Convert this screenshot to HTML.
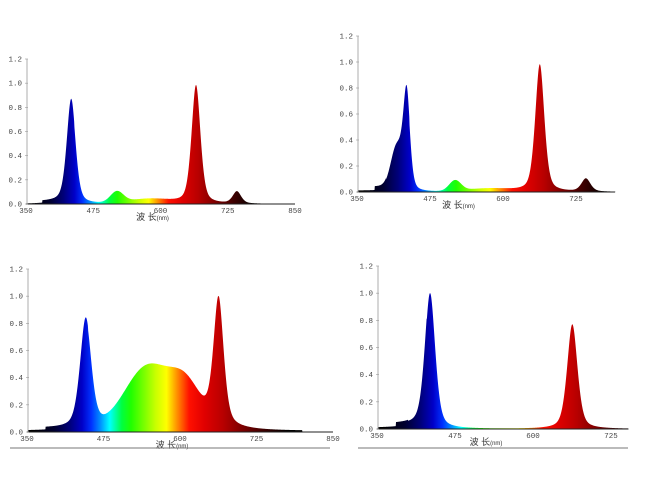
<!DOCTYPE html>
<html><head><meta charset="utf-8"><style>
body{margin:0;background:#fff;width:650px;height:500px;overflow:hidden}
svg{position:absolute;left:0;top:0}
text{font-family:"Liberation Mono",monospace;font-size:7.5px;fill:#444}
.t{font-family:"Liberation Sans","Noto Sans CJK SC",sans-serif;font-size:9px;fill:#333}
</style></head><body>
<svg id="s" width="650" height="500" xmlns="http://www.w3.org/2000/svg"></svg>
<script>
const S=document.getElementById('s');let h='';
const stops=[[360,'#000'],[395,'#000030'],[420,'#00007a'],[440,'#0000c8'],[455,'#0030ff'],[470,'#0090ff'],[485,'#00ffff'],[505,'#00ff40'],[520,'#20ff00'],[560,'#c8ff00'],[578,'#ffff00'],[595,'#ff9000'],[615,'#ff1000'],[640,'#e00000'],[670,'#b80000'],[700,'#800000'],[735,'#400000'],[775,'#000']];
function g(x,c,w){return Math.exp(-0.5*((x-c)/w)**2)}
function l(x,c,w){return 1/(1+((x-c)/w)**2)}
function pk(x,c,a,w){return a*(0.55*g(x,c,w)+0.45*l(x,c,w*1.1))}
const charts=[
{x0:26,x1:295,n0:350,n1:850,y0:204,y12:59,end:850,ticks:[350,475,600,725,850],line:false,
 f:x=>pk(x,434,0.85,8.5)+pk(x,666,0.98,8.5)+pk(x,742,0.1,8)+0.09*g(x,519,12)+0.04*g(x,580,40)+(x>380&&x<440?0.02:0)},
{x0:357,x1:503,n0:350,n1:600,y0:192,y12:36,end:792,ticks:[350,475,600,725],line:false,
 f:x=>pk(x,435,0.72,6)+0.3*g(x,418,10)+pk(x,663,0.98,8)+pk(x,742,0.1,8)+0.08*g(x,518,10)+0.025*g(x,575,40)+(x>380&&x<440?0.03:0)+0.01*(x<400)},
{x0:27,x1:180,n0:350,n1:600,y0:432,y12:269,end:850,ticks:[350,475,600,725,850],line:[10,330,448],
 f:x=>pk(x,446,0.8,9.5)+0.47*g(x,548,38)+0.27*g(x,610,25)+pk(x,663,0.9,8.5)+0.06*Math.exp(-Math.abs(x-663)/35)+(x>380&&x<450?0.02:0)+0.01*(x<800)},
{x0:377,x1:533,n0:350,n1:600,y0:429,y12:266,end:753,ticks:[350,475,600,725],line:[358,628,448],
 f:x=>pk(x,435,1.0,8.5)+pk(x,663,0.77,8.5)+(x>380&&x<430?0.03:0)+0.008*(x<400)}];
charts.forEach((c,i)=>{
 const k=(c.x1-c.x0)/(c.n1-c.n0),X=n=>c.x0+(n-c.n0)*k,Y=v=>c.y0-(c.y0-c.y12)*v/1.2;
 h+=`<defs><linearGradient id="g${i}" gradientUnits="userSpaceOnUse" x1="${X(350)}" x2="${X(850)}" y1="0" y2="0">`+
 stops.map(s=>`<stop offset="${(s[0]-350)/500}" stop-color="${s[1]}"/>`).join('')+`</linearGradient></defs>`;
 let d=`M${X(352)},${c.y0}`;
 for(let n=352;n<=Math.min(c.end,820);n+=0.5)d+=`L${X(n).toFixed(2)},${Y(Math.min(c.f(n),1.0)).toFixed(2)}`;
 d+=`L${X(Math.min(c.end,820))},${c.y0}Z`;
 h+=`<path d="${d}" fill="url(#g${i})"/>`;
 h+=`<line x1="${c.x0+1}" y1="${c.y12}" x2="${c.x0+1}" y2="${c.y0}" stroke="#999" stroke-width="0.8"/>`;
 h+=`<line x1="${c.x0}" y1="${c.y0}" x2="${X(c.end)}" y2="${c.y0}" stroke="#222" stroke-width="1"/>`;
 for(let v=0;v<=6;v++){const y=Y(v*0.2);h+=`<line x1="${c.x0-1}" x2="${c.x0+2}" y1="${y}" y2="${y}" stroke="#999" stroke-width="0.6"/><text x="${c.x0-4}" y="${y+2.5}" text-anchor="end">${(v*0.2).toFixed(1)}</text>`;}
 c.ticks.forEach(t=>{h+=`<text x="${X(t)}" y="${c.y0+9}" text-anchor="middle">${t}</text>`});
 const mid=(X(350)+X(c.ticks[c.ticks.length-1]))/2;
 h+=`<text class="t" x="${mid-8}" y="${c.y0+16}" text-anchor="middle">波 长<tspan style="font-size:6px">(nm)</tspan></text>`;
 if(c.line)h+=`<line x1="${c.line[0]}" x2="${c.line[1]}" y1="${c.line[2]}" y2="${c.line[2]}" stroke="#777" stroke-width="1"/>`;
});
S.innerHTML=h;
</script>
</body></html>
